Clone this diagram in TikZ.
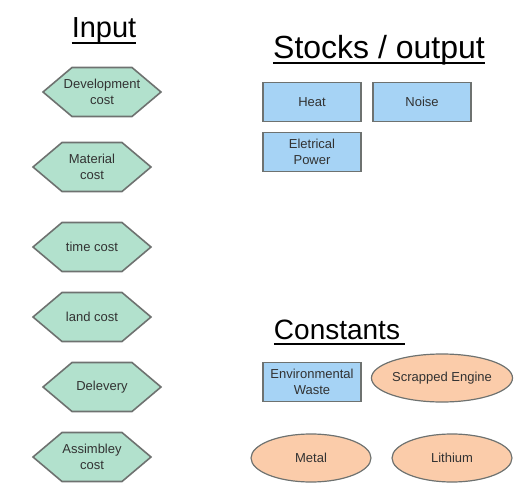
\documentclass[tikz,border=0pt]{standalone}
\usepackage{fontspec}
\setmainfont{Liberation Sans}
\usetikzlibrary{shapes.geometric}

\definecolor{mint}{RGB}{178,225,205}
\definecolor{sky}{RGB}{166,211,245}
\definecolor{peach}{RGB}{251,204,170}
\definecolor{edgegray}{RGB}{110,114,112}
\definecolor{ink}{RGB}{50,50,50}

\begin{document}
\begin{tikzpicture}[x=1pt, y=-1pt,
  every node/.style={font=\fontsize{13}{16}\selectfont, text=ink, align=center},
  hexa/.style={draw=edgegray, line width=1.6pt, fill=mint, line join=miter},
  stockbox/.style={draw=edgegray, line width=1.6pt, fill=sky, rectangle,
    minimum width=98pt, minimum height=39pt, inner sep=0pt},
  constant/.style={draw=edgegray, line width=1.2pt, fill=peach, ellipse,
    minimum width=120pt, minimum height=48pt, inner sep=0pt},
  heading/.style={text=black, inner sep=0pt, anchor=base}]
  \useasboundingbox (0,0) rectangle (514,484);

  % headings
  \node[heading, font=\fontsize{29}{32}\selectfont] (input) at (104,38) {Input};
  \node[heading, font=\fontsize{32}{34}\selectfont] (stocks) at (379,59) {Stocks / output};
  \node[heading, font=\fontsize{28}{30}\selectfont] (consts) at (337,339) {Constants};
  \draw[line width=2pt] ([yshift=-5pt]input.base west) -- ([yshift=-5pt]input.base east);
  \draw[line width=2pt] ([yshift=-4pt]stocks.base west) -- ([yshift=-4pt]stocks.base east);
  \draw[line width=2pt] ([yshift=-5pt]consts.base west) -- ([yshift=-5pt,xshift=5pt]consts.base east);

  % input costs
  \foreach \nm/\x/\y/\txt in {dev/102/92/{Development\\cost}, mat/92/167/{Material\\cost},
      time/92/247/{time cost}, land/92/317/{land cost}, deliv/102/387/{Delevery},
      assem/92/457/{Assimbley\\cost}} {
    \draw[hexa] (\x-59,\y) -- (\x-30,\y-24.5) -- (\x+30,\y-24.5) -- (\x+59,\y)
      -- (\x+30,\y+24.5) -- (\x-30,\y+24.5) -- cycle;
    \node (\nm) at (\x,\y) {\txt};
  }

  % stocks / output
  \node[stockbox] (heat) at (312,102) {Heat};
  \node[stockbox] (noise) at (422,102) {Noise};
  \node[stockbox] (power) at (312,152) {Eletrical\\Power};

  % constants
  \node[stockbox] (waste) at (312,382) {Environmental\\Waste};
  \node[constant] (engine) at (442,378) {Scrapped Engine};
  \node[constant] (metal) at (311,458) {Metal};
  \node[constant] (lith) at (452,458) {Lithium};
\end{tikzpicture}
\end{document}
